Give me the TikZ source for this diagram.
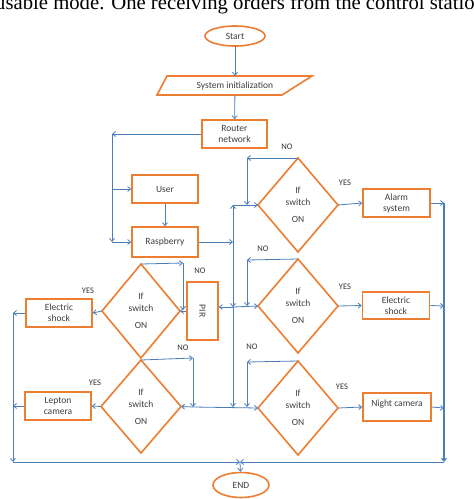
\documentclass[tikz,border=0pt]{standalone}
\usepackage{fontspec}
\setmainfont{Carlito}
\newfontfamily\timesfont{Liberation Serif}
\usetikzlibrary{shapes.geometric,arrows.meta}
\definecolor{fcorange}{HTML}{ED7D31}
\definecolor{fcblue}{HTML}{4A7EBB}
\definecolor{fctext}{HTML}{3F3F3F}
\tikzset{
  x=1pt,y=-1pt,
  flowbox/.style={draw=fcorange,line width=1.6pt,fill=white,rectangle,inner sep=1pt,
    align=center,font=\fontsize{9.5}{11}\selectfont,text=fctext},
  termbox/.style={draw=fcorange,line width=1.6pt,fill=white,ellipse,inner sep=0pt,
    font=\fontsize{9.5}{11}\selectfont,text=fctext},
  decbox/.style={draw=fcorange,line width=1.6pt,fill=white,diamond,inner sep=0pt,outer sep=0pt,
    minimum width=80pt,minimum height=94pt,align=center,
    font=\fontsize{9.5}{11}\selectfont,text=fctext},
  conn/.style={draw=fcblue,line width=0.8pt},
  arr/.style={conn,-{Straight Barb[length=3pt,width=5pt]}},
  lbl/.style={font=\fontsize{8.5}{10}\selectfont,text=black!80,inner sep=0pt},
}
\begin{document}
\begin{tikzpicture}
\useasboundingbox (0,0) rectangle (474,499);
\fill[white] (0,0) rectangle (474,499);
% caption text cut at top
\node[anchor=base west,inner sep=0pt,font=\timesfont\fontsize{20.7}{24}\selectfont] (cap) at (-5,9)
  {usable mode. One receiving orders from the control station.};
% nodes
\node[termbox,minimum width=60pt,minimum height=20pt] (start) at (235,36) {Start};
\node[inner sep=0pt,minimum width=110pt,minimum height=19pt,font=\fontsize{9.5}{11}\selectfont,text=fctext] (init) at (235,85.5) {System initialization};
\draw[fcorange,line width=1.6pt,line join=miter] (167,76) -- (312,76) -- (282,95) -- (157,95) -- cycle;
\node[flowbox,minimum width=65pt,minimum height=28pt] (router) at (234.5,134) {Router\\network};
\node[flowbox,minimum width=66pt,minimum height=28pt] (user) at (165,189) {User};
\node[flowbox,minimum width=66pt,minimum height=30pt] (rasp) at (165,242) {Raspberry};
\node[decbox] (d1) at (298,205) {If\\[1pt]switch\\[6pt]ON};
\node[decbox] (d2) at (298,306) {If\\[1pt]switch\\[6pt]ON};
\node[decbox] (d3) at (298,408) {If\\[1pt]switch\\[6pt]ON};
\node[decbox,minimum width=78pt] (l1) at (141,311) {If\\[1pt]switch\\[6pt]ON};
\node[decbox,minimum height=93pt] (l2) at (141,406.5) {If\\[1pt]switch\\[6pt]ON};
\node[flowbox,minimum width=67pt,minimum height=28pt] (alarm) at (396.5,203) {Alarm\\system};
\node[flowbox,minimum width=67pt,minimum height=27pt] (eshockr) at (396,305.5) {Electric\\shock};
\node[flowbox,minimum width=68pt,minimum height=28pt,text depth=7pt] (night) at (397,407) {Night camera};
\node[flowbox,minimum width=66pt,minimum height=28pt] (eshockl) at (59,313) {Electric\\shock};
\node[flowbox,minimum width=66pt,minimum height=28pt] (lepton) at (58,406) {Lepton\\camera};
\node[flowbox,minimum width=31pt,minimum height=58pt] (pir) at (202.5,311) {\rotatebox{-90}{PIR}};
\node[termbox,minimum width=56pt,minimum height=25pt] (end) at (241,485) {END};
% junction coordinates
\coordinate (rl) at (112,134);
\coordinate (ru) at (112,189);
\coordinate (rr) at (112,242);
\coordinate (rb) at (233,242);
\coordinate (b1) at (233,205);
\coordinate (b2) at (233,307);
\coordinate (b3) at (233,407);
\coordinate (n1a) at (247,158); \coordinate (n1b) at (247,205);
\coordinate (n2a) at (247,260); \coordinate (n2b) at (247,306);
\coordinate (n3a) at (247,362); \coordinate (n3b) at (247,407);
\coordinate (m1a) at (183,263); \coordinate (m1b) at (183,310);
\coordinate (m2a) at (193,358); \coordinate (m2b) at (193,407);
\coordinate (r1) at (444,203); \coordinate (r2) at (444,306); \coordinate (r3) at (444,408);
\coordinate (rbot) at (444,462);
\coordinate (l1e) at (13,313); \coordinate (l2e) at (13,406);
\coordinate (lbot) at (13,462);
\coordinate (mid) at (240,462);
% connectors
\draw[arr] (start) -- (init);
\draw[arr] (init) -- (router);
\draw[arr] (router.west) -- (rl);
\draw[arr] (rl) -- (rr);
\draw[arr] (ru) -- (user.west);
\draw[arr] (rr) -- (rasp.west);
\draw[arr] (user) -- (rasp);
\draw[arr] (rasp.east |- rb) -- (rb);
\draw[arr] (rb) -- (b1);
\draw[arr] (b1) -- (d1.west);
\draw[arr] (b1) -- (b2);
\draw[arr] (b2) -- (b3);
\draw[arr] (b2) -- (d2.west);
\draw[arr] (b2) -- (pir.east |- b2);
\draw[arr] (m2b) -- (d3.west);
\draw[arr] (m2b) -- (l2.east);
% NO loops right
\draw[arr] (d1.north) -- (n1a); \draw[arr] (n1a) -- (n1b);
\draw[arr] (d2.north) -- (n2a); \draw[arr] (n2a) -- (n2b);
\draw[arr] (d3.north) -- (n3a); \draw[arr] (n3a) -- (n3b);
% NO loops left
\draw[arr] (l1.north) -- (m1a); \draw[arr] (m1a) -- (m1b);
\draw[arr] (l2.north) -- (m2a); \draw[arr] (m2a) -- (m2b);
\draw[arr] (pir.west |- l1.east) -- (l1.east);
% YES branches
\draw[arr] (d1.east) -- (alarm.west);
\draw[arr] (d2.east) -- (eshockr.west);
\draw[arr] (d3.east) -- (night.west);
\draw[arr] (l1.west) -- (eshockl.east);
\draw[arr] (l2.west) -- (lepton.east);
\draw[arr] (alarm.east) -- (r1);
\draw[arr] (eshockr.east) -- (r2);
\draw[arr] (night.east) -- (r3);
\draw[arr] (eshockl.west) -- (l1e);
\draw[arr] (lepton.west) -- (l2e);
% collectors
\draw[arr,line width=1.1pt] (r1) -- (rbot);
\draw[arr] (rbot) -- (mid);
\draw[arr] (l1e) -- (lbot);
\draw[arr] (lbot) -- (mid);
\draw[arr] (mid) -- (end);
% labels
\node[lbl] (no1) at (287,147) {NO};
\node[lbl] (yes1) at (345,183) {YES};
\node[lbl] (no2) at (263,249) {NO};
\node[lbl] (yes2) at (345,287) {YES};
\node[lbl] (no3) at (252,347) {NO};
\node[lbl] (yes3) at (342,387) {YES};
\node[lbl] (no4) at (200,271) {NO};
\node[lbl] (yes4) at (88,291) {YES};
\node[lbl] (no5) at (183,348) {NO};
\node[lbl] (yes5) at (95,383) {YES};
\end{tikzpicture}
\end{document}
